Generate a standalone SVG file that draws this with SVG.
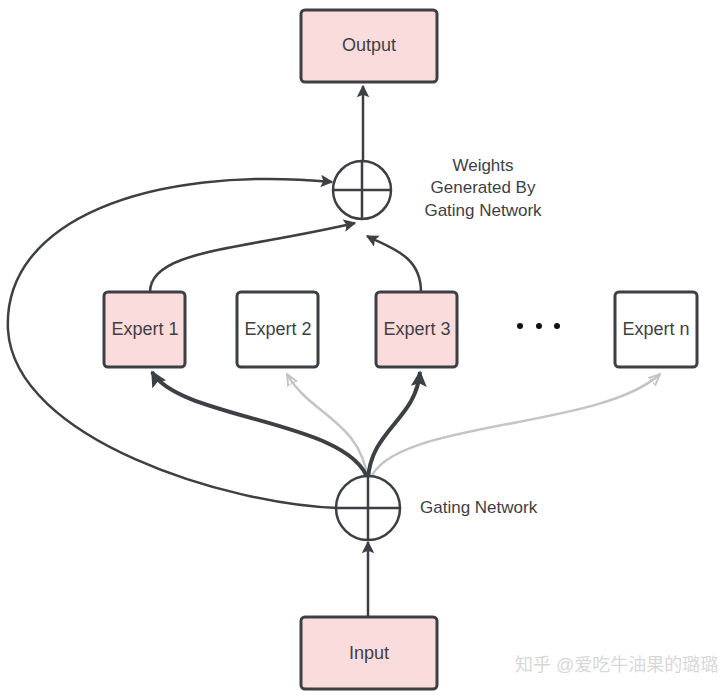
<svg xmlns="http://www.w3.org/2000/svg" width="720" height="699" viewBox="0 0 720 699">
<style>
.box{stroke:#3d3f44;stroke-width:3;}
.pink{fill:#fbdcdc;}
.white{fill:#fff;}
.t{font-family:"Liberation Sans",Arial,sans-serif;font-size:18px;fill:#3d3f44;text-anchor:middle;}
.lab{font-family:"Liberation Sans",Arial,sans-serif;font-size:17px;fill:#3d3f44;}
.c{fill:#fff;stroke:#3d3f44;stroke-width:2.5;}
.dk{fill:none;stroke:#3d3f44;stroke-width:2.5;}
.th{fill:none;stroke:#3d3f44;stroke-width:4;}
.gr{fill:none;stroke:#c4c4c4;stroke-width:2.5;}
</style>
<defs>
<marker id="a" viewBox="0 0 10 10" refX="9" refY="5" markerWidth="5" markerHeight="5" orient="auto" markerUnits="strokeWidth"><path d="M0,0L10,5L0,10L2,5z" fill="#3d3f44"/></marker>
<marker id="at" viewBox="0 0 10 10" refX="9" refY="5" markerWidth="4" markerHeight="4" orient="auto" markerUnits="strokeWidth"><path d="M0,0L10,5L0,10L2,5z" fill="#3d3f44"/></marker>
<marker id="ag" viewBox="0 0 10 10" refX="9" refY="5" markerWidth="5" markerHeight="5" orient="auto" markerUnits="strokeWidth"><path d="M0,1L9,5L0,9z" fill="none" stroke="#c4c4c4" stroke-width="1.5"/></marker>
</defs>
<rect width="720" height="699" fill="#fff"/>
<g id="connectors">
<path class="dk" d="M363,161V86" marker-end="url(#a)"/>
<path class="dk" d="M150,292C150,250 240,250 355,223" marker-end="url(#a)"/>
<path class="dk" d="M421,292C421,255 390,248 367,236" marker-end="url(#a)"/>
<path class="dk" d="M338,508C230,505 15,440 8,330C2,220 150,165 332,182" marker-end="url(#a)"/>
<path class="dk" d="M368,617V542" marker-end="url(#a)"/>
<path class="gr" d="M368,480C360,420 310,415 287,374" marker-end="url(#ag)"/>
<path class="gr" d="M370,480C390,420 600,430 660,374" marker-end="url(#ag)"/>
<path class="th" d="M368,480C350,420 180,420 152,372" marker-end="url(#at)"/>
<path class="th" d="M368,480C370,430 416,420 420,372" marker-end="url(#at)"/>
</g>
<g id="output"><rect class="box pink" x="301" y="10" width="136" height="72" rx="4"/><text class="t" x="369" y="51">Output</text></g>
<g id="combine"><circle class="c" cx="362" cy="190" r="29"/><path class="dk" d="M333,190H391M362,161V219"/>
<text class="lab" text-anchor="middle" x="483" y="171">Weights</text><text class="lab" text-anchor="middle" x="483" y="193">Generated By</text><text class="lab" text-anchor="middle" x="483" y="216">Gating Network</text></g>
<g id="e1"><rect class="box pink" x="104" y="292" width="81" height="75" rx="4"/><text class="t" x="145" y="335">Expert 1</text></g>
<g id="e2"><rect class="box white" x="237" y="292" width="81" height="75" rx="4"/><text class="t" x="278" y="335">Expert 2</text></g>
<g id="e3"><rect class="box pink" x="376" y="292" width="81" height="75" rx="4"/><text class="t" x="417" y="335">Expert 3</text></g>
<g id="dots" fill="#111"><circle cx="520" cy="326" r="3"/><circle cx="539" cy="326" r="3"/><circle cx="557" cy="326" r="3"/></g>
<g id="en"><rect class="box white" x="615" y="292" width="82" height="75" rx="4"/><text class="t" x="656" y="335">Expert n</text></g>
<g id="gating"><circle class="c" cx="368" cy="508" r="32"/><path class="dk" d="M336,508H400M368,476V540"/><text class="lab" x="420" y="513">Gating Network</text></g>
<g id="input"><rect class="box pink" x="301" y="617" width="136" height="72" rx="4"/><text class="t" x="369" y="659">Input</text></g>
<text x="515" y="671" font-family="Liberation Sans,Noto Sans CJK SC,sans-serif" font-size="18" fill="#d8d8d8">知乎 @爱吃牛油果的璐璐</text>
</svg>
